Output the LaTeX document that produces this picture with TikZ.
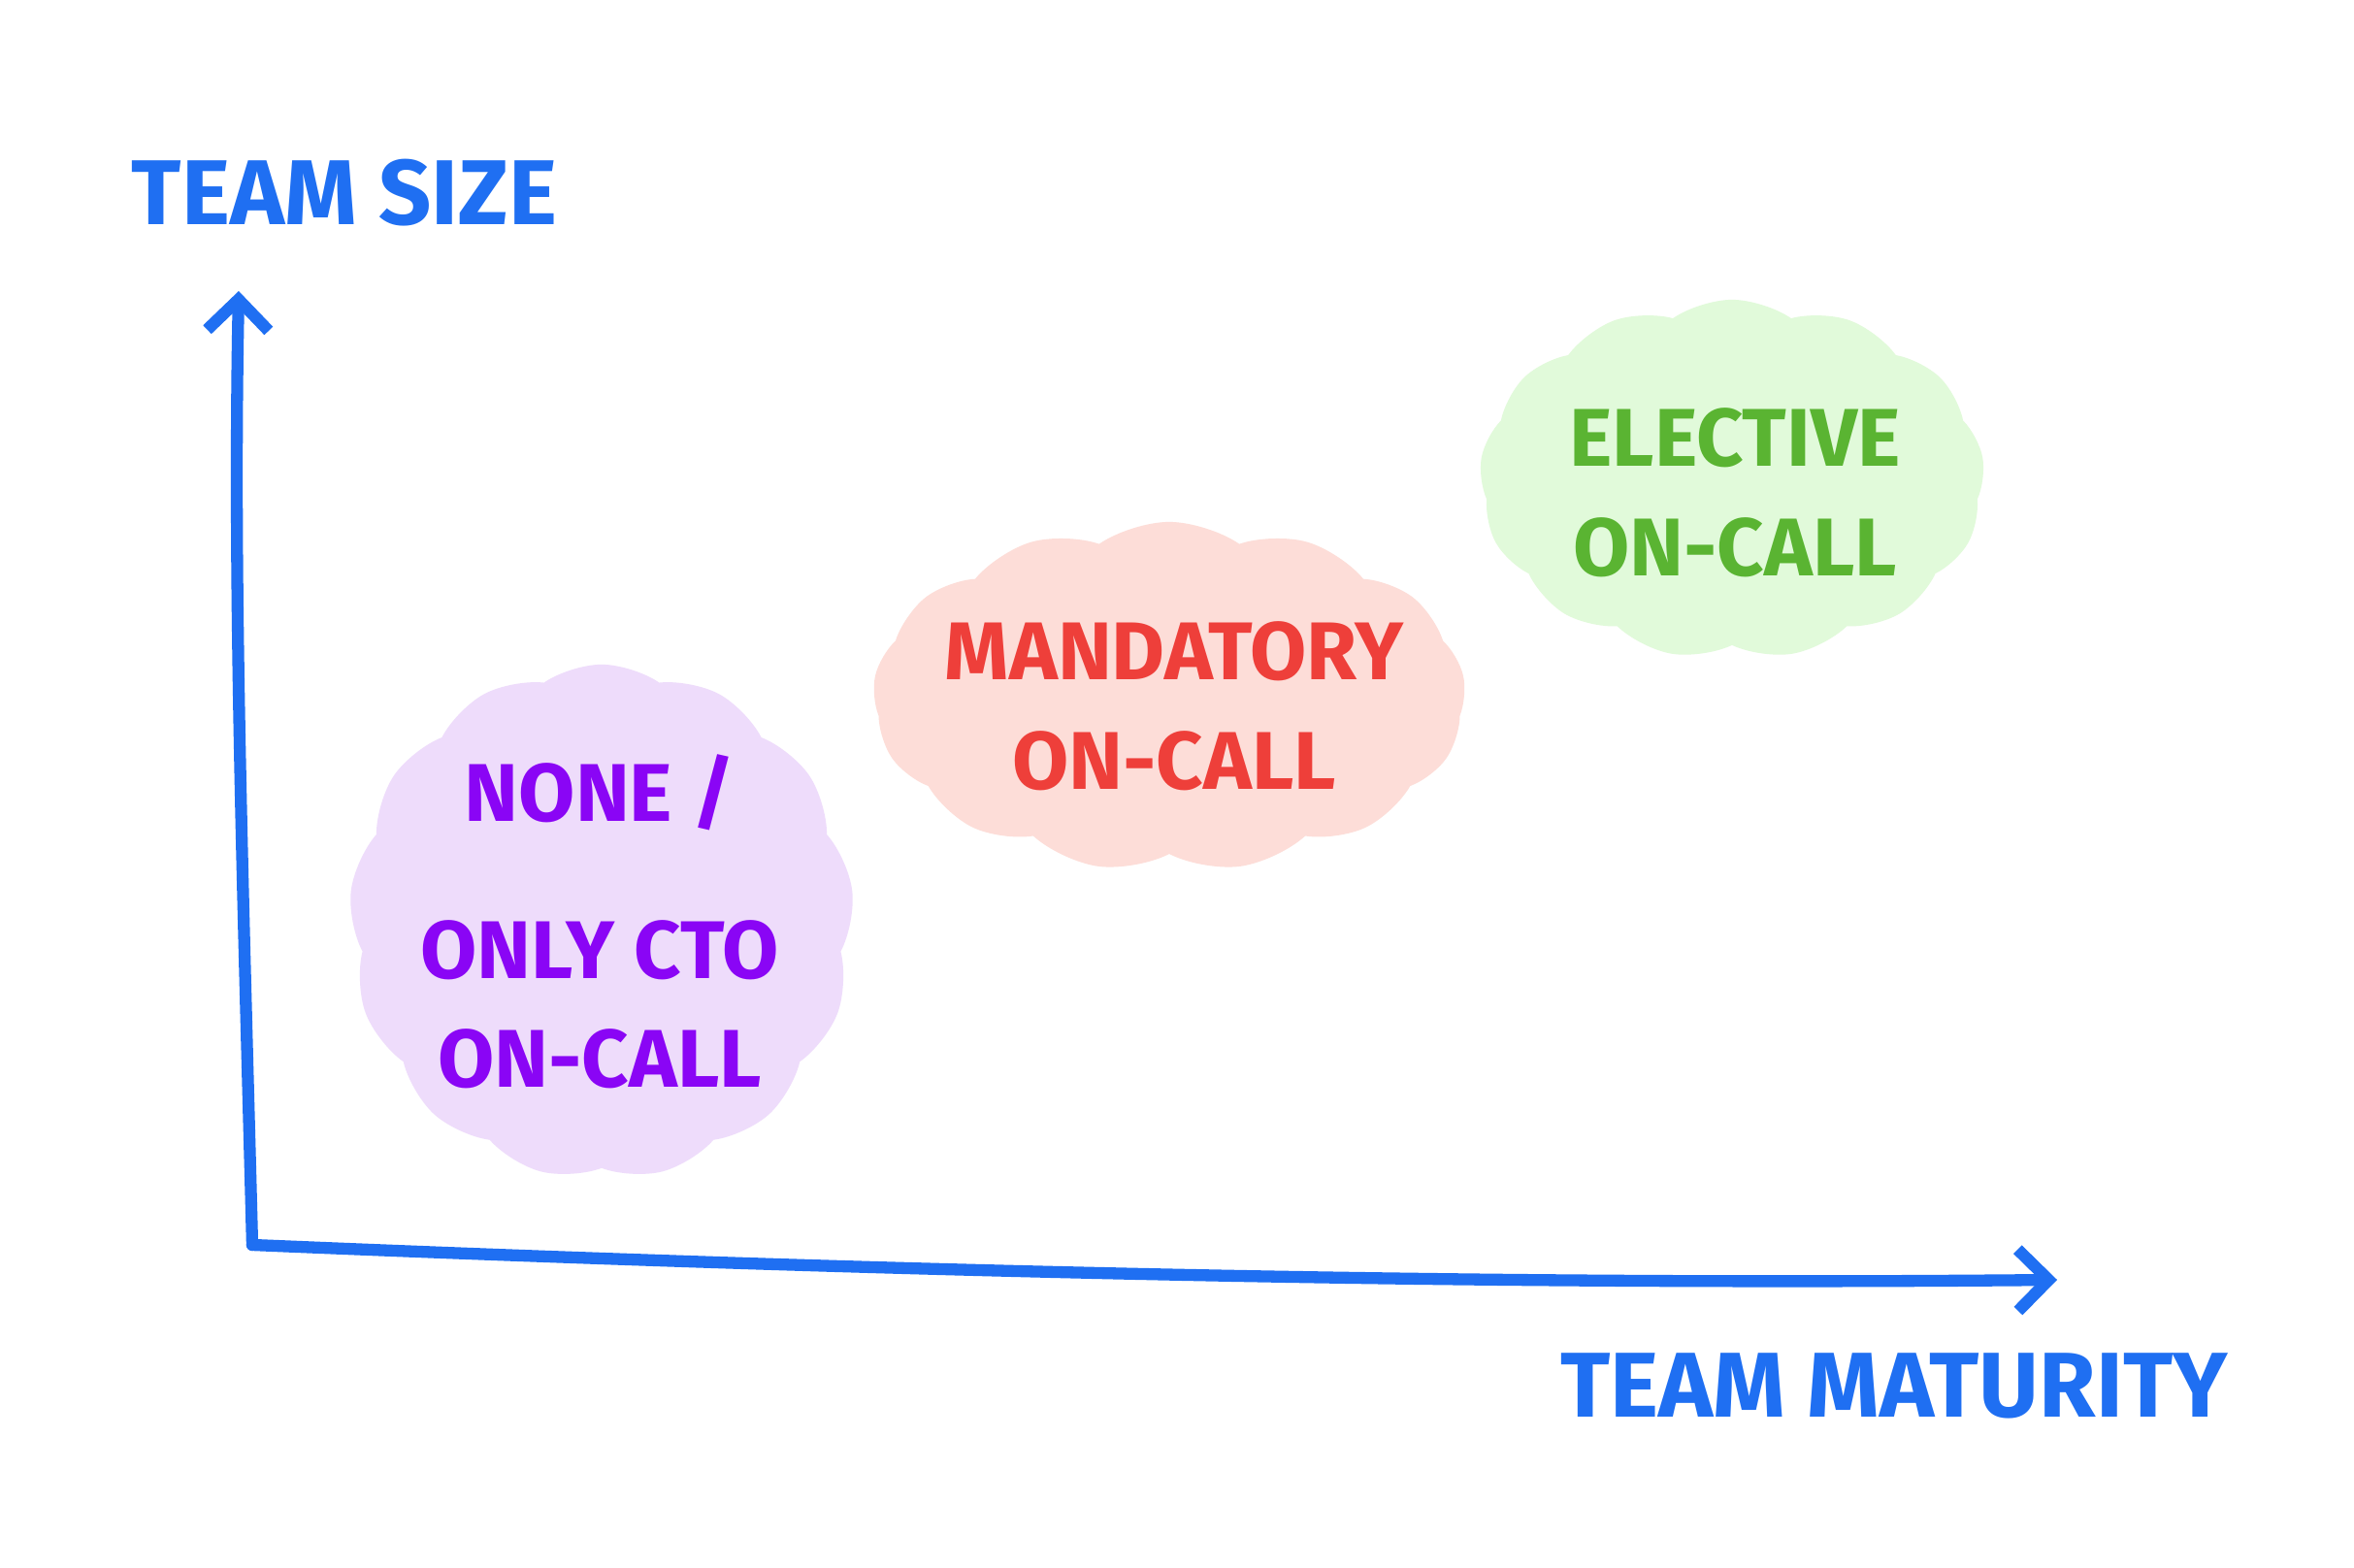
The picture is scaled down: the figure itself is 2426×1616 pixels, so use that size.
\documentclass[tikz,border=0pt]{standalone}
\usepackage{fontspec}
\setmainfont{Fira Sans}
\usetikzlibrary{shapes.symbols,arrows.meta}
\definecolor{axblue}{HTML}{1F6FF2}
\definecolor{purp}{HTML}{8A05F5}
\definecolor{purpf}{HTML}{EEDCFB}
\definecolor{redt}{HTML}{EE3F3A}
\definecolor{redf}{HTML}{FDDDD8}
\definecolor{grnt}{HTML}{5AB432}
\definecolor{grnf}{HTML}{E1FADA}
\tikzset{
  blob/.style={cloud, cloud puffs=13, cloud puff arc=70, draw=none, aspect=1},
  lbl/.style={font=\fontsize{24}{32}\selectfont\bfseries, align=center, inner sep=0},
  axis/.style={draw=axblue, line width=3.5pt, line cap=round, line join=round, -{Straight Barb[length=9pt,width=18pt,line width=3.5pt]}},
  axlbl/.style={font=\fontsize{27}{32}\selectfont\bfseries, text=axblue, inner sep=0}
}
\begin{document}
\begin{tikzpicture}[x=0.01cm,y=-0.01cm]
\useasboundingbox[fill=white] (0,0) rectangle (2426,1616);
\node[blob, fill=purpf, minimum width=5.2cm, minimum height=5.3cm] (p) at (620,950) {};
\node[blob, fill=redf, minimum width=6.1cm, minimum height=3.6cm, aspect=1.7] (r) at (1205,718) {};
\node[blob, fill=grnf, minimum width=5.2cm, minimum height=3.7cm, aspect=1.45] (g) at (1785,494) {};
\coordinate (o) at (260,1283);
\coordinate (ytop) at (246,300);
\coordinate (xend) at (2120,1319);
\draw[axis] (o) .. controls (250,900) and (240,600) .. (ytop);
\draw[axis] (o) .. controls (900,1310) and (1500,1325) .. (xend);
\node[axlbl] (ty) at (355,199) {TEAM SIZE};
\node[axlbl] (tx) at (1952,1428) {TEAM MATURITY};
\node[lbl, text=purp] (pt) at (618,950) {NONE /\\[14pt]ONLY CTO\\ON-CALL};
\node[lbl, text=redt] (rt) at (1210,728) {MANDATORY\\ON-CALL};
\node[lbl, text=grnt] (gt) at (1788,508) {ELECTIVE\\ON-CALL};
\end{tikzpicture}
\end{document}
